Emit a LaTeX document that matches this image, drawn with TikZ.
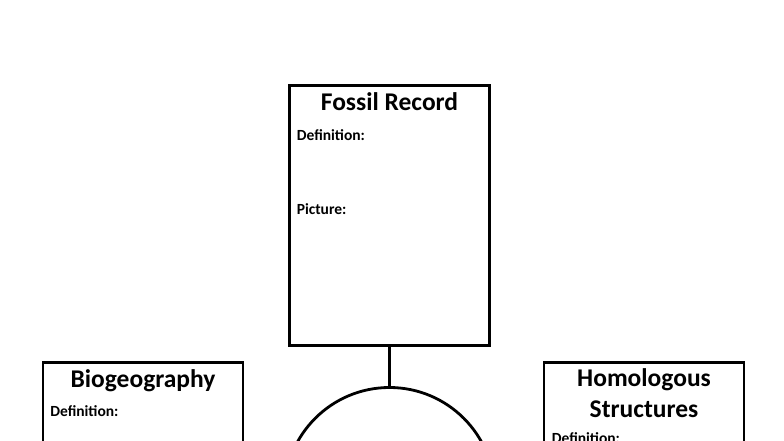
\documentclass[tikz,border=0pt]{standalone}
\usepackage{fontspec}
\setmainfont{Carlito}

\tikzset{
  panel/.style={draw,line width=2.8pt,minimum width=200pt,minimum height=260pt,inner sep=0pt},
  paneltitle/.style={font=\bfseries\fontsize{25.5}{31}\selectfont,anchor=base,align=center,inner sep=0pt},
  fieldlabel/.style={font=\bfseries\fontsize{15.5}{18}\selectfont,anchor=base west,inner sep=0pt},
}

\begin{document}
\begin{tikzpicture}[x=1pt,y=-1pt]%
\clip (0,0) rectangle (784,441);
\fill[white] (0,0) rectangle (784,441);
% panels
\node[panel] (fossil) at (389.5,215.5) {};
\node[panel] (biogeo) at (143,492.5) {};
\node[panel] (homol) at (644,492.5) {};
% hub, cut off by the page edge
\node[draw,circle,line width=2.8pt,minimum size=210pt] (hub) at (389.5,492.5) {};
\draw[line width=2.8pt] (fossil) -- (hub);
% titles
\node[paneltitle] (fossiltitle) at ([yshift=-26.5pt]fossil.north) {Fossil Record};
\node[paneltitle] (biogeotitle) at ([yshift=-26.5pt]biogeo.north) {Biogeography};
\node[paneltitle] (homoltitle) at ([yshift=-56pt]homol.north) {Homologous\\Structures};
% fields
\node[fieldlabel] (fossildef) at ([xshift=8.5pt,yshift=-56pt]fossil.north west) {Definition:};
\node[fieldlabel] (fossilpic) at ([xshift=8.5pt,yshift=-130pt]fossil.north west) {Picture:};
\node[fieldlabel] (biogeodef) at ([xshift=8.5pt,yshift=-55.5pt]biogeo.north west) {Definition:};
\node[fieldlabel] (homoldef) at ([xshift=9pt,yshift=-82pt]homol.north west) {Definition:};
\end{tikzpicture}
\end{document}
